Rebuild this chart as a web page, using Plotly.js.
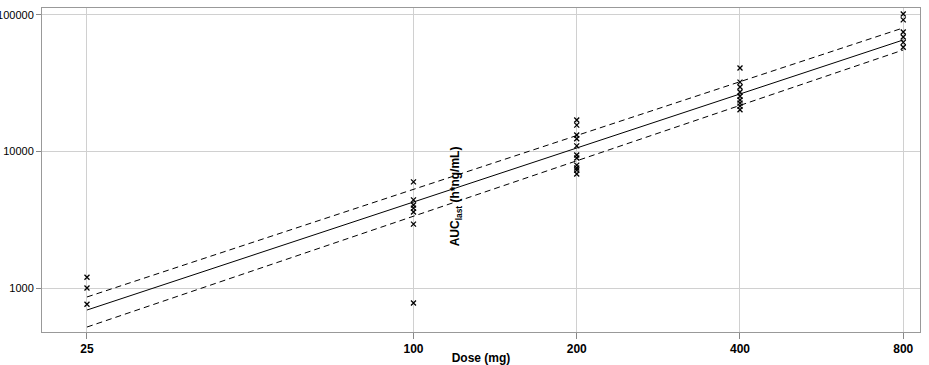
<!DOCTYPE html>
<html><head><meta charset="utf-8">
<script src="https://cdn.plot.ly/plotly-3.0.1.min.js"></script>
<style>html,body{margin:0;padding:0;background:#fff}#chart{width:929px;height:365px}</style>
</head><body><div id="chart"></div>
<script>
const doseTicks = [25, 100, 200, 400, 800];
const doseTickText = ["25", "100", "200", "400", "800"];
const aucTicks = [1000, 10000, 100000];
const aucTickText = ["1000", "10000", "100000"];

const dose25 = [1200, 1000, 760];
const dose100 = [5990, 4420, 4060, 3850, 3610, 2940, 776];
const dose200 = [17000, 15600, 13200, 12400, 11000, 9440, 8950, 7950, 7570, 7300, 6840];
const dose400 = [40900, 32200, 29700, 27300, 25400, 23800, 22600, 21500, 20200];
const dose800 = [101700, 92000, 75000, 69000, 63000, 58000];

const fitDose = [25, 800];
const fitAuc = [690, 65600];
const upperAuc = [860, 80400];
const lowerAuc = [518, 55400];

const obsX = [], obsY = [];
[[25, dose25], [100, dose100], [200, dose200], [400, dose400], [800, dose800]].forEach(([d, arr]) => {
  arr.forEach(v => { obsX.push(d); obsY.push(v); });
});

const traces = [
  {x: obsX, y: obsY, mode: 'markers', type: 'scatter',
   marker: {symbol: 'x-thin', size: 5, color: '#000', line: {color: '#000', width: 1.3}}},
  {x: fitDose, y: fitAuc, mode: 'lines', type: 'scatter', line: {color: '#000', width: 1}},
  {x: fitDose, y: upperAuc, mode: 'lines', type: 'scatter', line: {color: '#000', width: 1, dash: '6px,4px'}},
  {x: fitDose, y: lowerAuc, mode: 'lines', type: 'scatter', line: {color: '#000', width: 1, dash: '6px,4px'}}
];

const layout = {
  width: 929, height: 365,
  margin: {l: 42, r: 9, t: 8, b: 33},
  showlegend: false,
  paper_bgcolor: '#fff', plot_bgcolor: '#fff',
  font: {family: 'Liberation Sans, Arial, sans-serif', size: 11, color: '#000'},
  xaxis: {
    type: 'log', range: [1.315, 2.934],
    tickvals: doseTicks, ticktext: doseTickText,
    tickfont: {size: 12, family: 'Liberation Sans, Arial, sans-serif', weight: 'bold'},
    ticks: 'outside', ticklen: 6, tickcolor: '#888',
    showgrid: true, gridcolor: '#d0d0d0', gridwidth: 1,
    showline: true, linecolor: '#999', linewidth: 1, mirror: true,
    zeroline: false,
    title: {text: 'Dose (mg)', standoff: 16, font: {size: 12, weight: 'bold'}}
  },
  yaxis: {
    type: 'log', range: [2.678, 5.051],
    tickvals: aucTicks, ticktext: aucTickText,
    ticks: 'outside', ticklen: 5, tickcolor: '#888',
    showgrid: true, gridcolor: '#d0d0d0', gridwidth: 1,
    showline: true, linecolor: '#999', linewidth: 1, mirror: true,
    zeroline: false
  },
  annotations: [{
    text: '<b>AUC<sub>last</sub> (h*ng/mL)</b>',
    xref: 'paper', yref: 'paper', x: 0.472, y: 0.42,
    textangle: -90, showarrow: false,
    font: {size: 12, color: '#000'}
  }]
};

Plotly.newPlot('chart', traces, layout, {displayModeBar: false, staticPlot: true});
</script></body></html>
